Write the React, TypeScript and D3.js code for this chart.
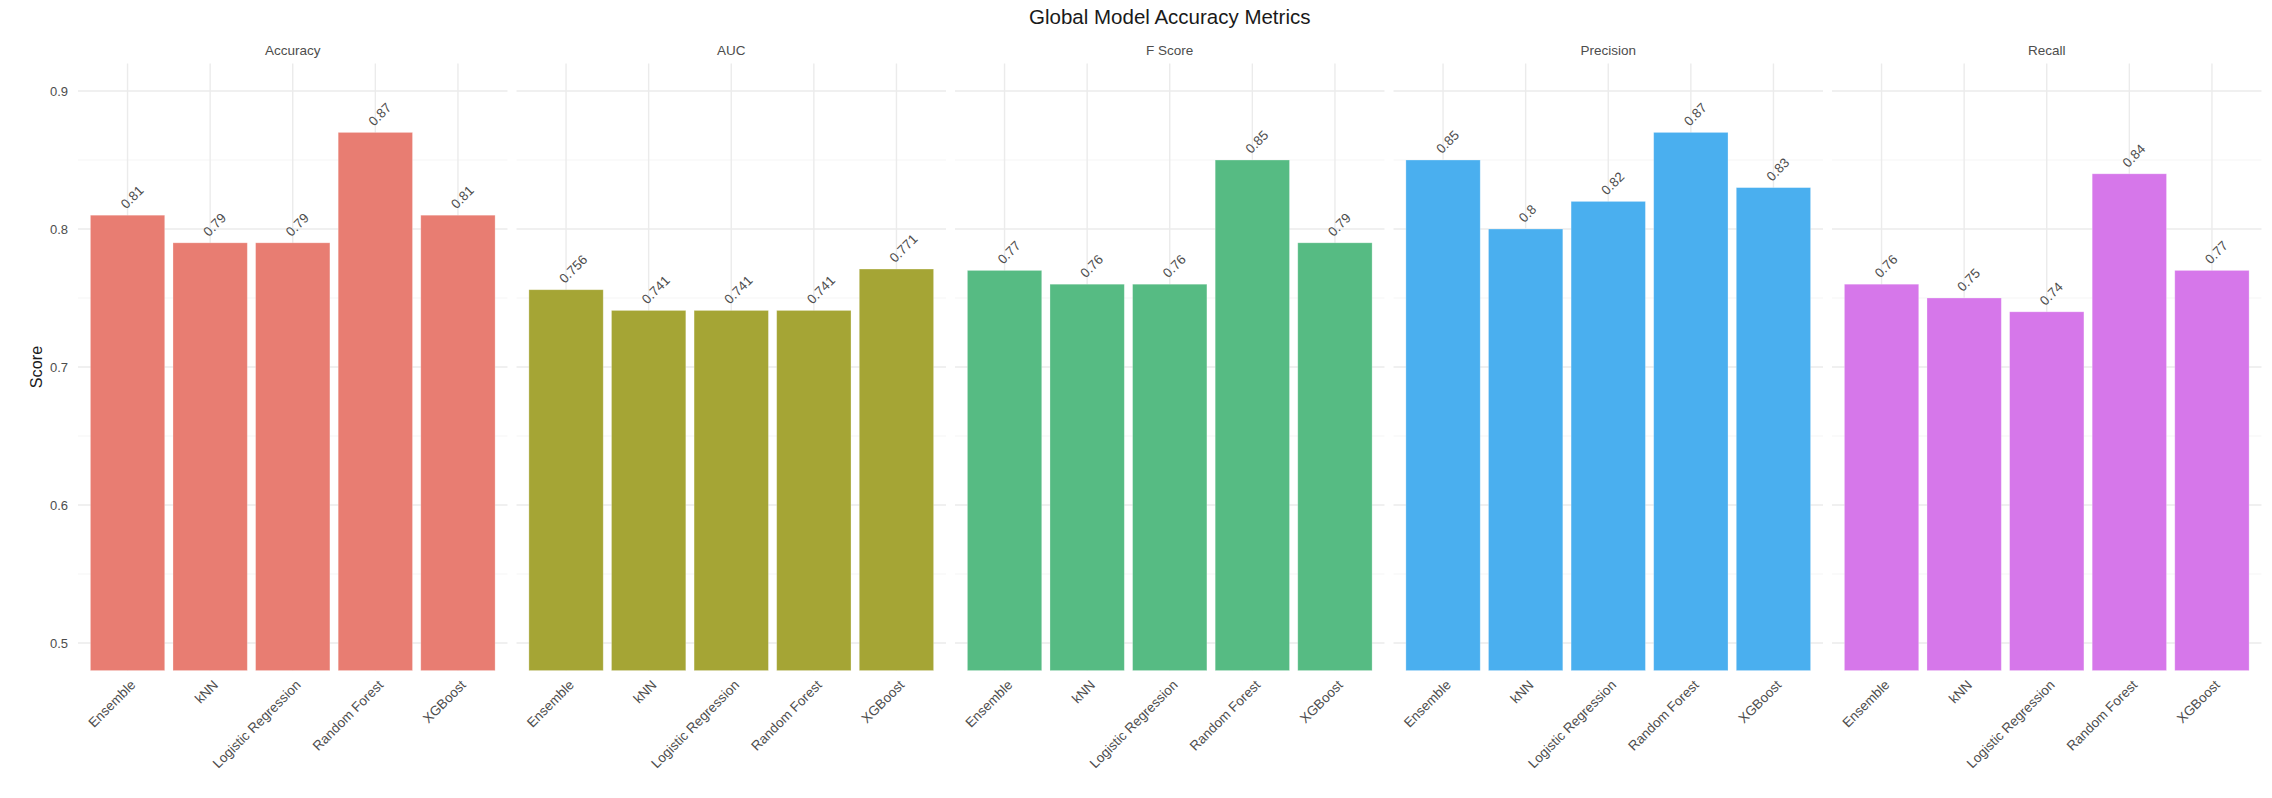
import React from "react";
import * as d3 from "d3";

// Chart data
const models = ["Ensemble", "kNN", "Logistic Regression", "Random Forest", "XGBoost"];
const metrics = ["Accuracy", "AUC", "F Score", "Precision", "Recall"];
const accuracy = [0.81, 0.79, 0.79, 0.87, 0.81];
const auc = [0.756, 0.741, 0.741, 0.741, 0.771];
const fScore = [0.77, 0.76, 0.76, 0.85, 0.79];
const precision = [0.85, 0.8, 0.82, 0.87, 0.83];
const recall = [0.76, 0.75, 0.74, 0.84, 0.77];
const majorTicks = [0.5, 0.6, 0.7, 0.8, 0.9];
const minorTicks = [0.55, 0.65, 0.75, 0.85];
const colors = ["#E87D72", "#A5A535", "#56BB83", "#4AAFEF", "#D677EA"];

const seriesByMetric = [accuracy, auc, fScore, precision, recall];

const W = 2272;
const H = 798;
const FONT = "'Liberation Sans', Arial, Helvetica, sans-serif";

const App: React.FC = () => {
  // Layout
  const panelLeft = 78;
  const panelWidth = 429.5;
  const panelGap = 9;
  const panelTop = 63.4;
  const panelBottom = 670.6;

  const y = d3.scaleLinear().domain([0.48, 0.92]).range([panelBottom, panelTop]);

  const panelX = (i: number) => panelLeft + i * (panelWidth + panelGap);
  const fullRight = panelX(metrics.length - 1) + panelWidth;

  return (
    <svg
      width={W}
      height={H}
      style={{ position: "absolute", left: 0, top: 0, background: "#fff" }}
      fontFamily={FONT}
    >
      {/* Title */}
      <text
        x={(panelLeft + fullRight) / 2}
        y={24}
        textAnchor="middle"
        fontSize={20.5}
        fill="#1a1a1a"
      >
        Global Model Accuracy Metrics
      </text>

      {/* Y axis title */}
      <text
        transform={`translate(42,${(panelTop + panelBottom) / 2}) rotate(-90)`}
        textAnchor="middle"
        fontSize={16.3}
        fill="#1a1a1a"
      >
        Score
      </text>

      {/* Y tick labels */}
      {majorTicks.map((t) => (
        <text
          key={t}
          x={68}
          y={y(t)}
          dy="0.35em"
          textAnchor="end"
          fontSize={13}
          fill="#4d4d4d"
        >
          {t}
        </text>
      ))}

      {metrics.map((metric, mi) => {
        const x0 = panelX(mi);
        const x = d3
          .scaleBand()
          .domain(models)
          .range([x0, x0 + panelWidth])
          .paddingInner(0.1)
          .paddingOuter(0.15);
        const values = seriesByMetric[mi];
        return (
          <g key={metric}>
            {/* Strip label */}
            <text
              x={x0 + panelWidth / 2}
              y={50}
              dy="0.35em"
              textAnchor="middle"
              fontSize={13.5}
              fill="#4d4d4d"
            >
              {metric}
            </text>

            {/* Minor grid */}
            {minorTicks.map((t) => (
              <line
                key={"mn" + t}
                x1={x0}
                x2={x0 + panelWidth}
                y1={y(t)}
                y2={y(t)}
                stroke="#f2f2f2"
                strokeWidth={0.8}
              />
            ))}
            {/* Major grid */}
            {majorTicks.map((t) => (
              <line
                key={"mj" + t}
                x1={x0}
                x2={x0 + panelWidth}
                y1={y(t)}
                y2={y(t)}
                stroke="#ebebeb"
                strokeWidth={1.4}
              />
            ))}
            {models.map((m) => {
              const cx = (x(m) || 0) + x.bandwidth() / 2;
              return (
                <line
                  key={"vg" + m}
                  x1={cx}
                  x2={cx}
                  y1={panelTop}
                  y2={panelBottom}
                  stroke="#ebebeb"
                  strokeWidth={1.4}
                />
              );
            })}

            {/* Bars */}
            {models.map((m, i) => (
              <rect
                key={"bar" + m}
                x={x(m) || 0}
                y={y(values[i])}
                width={x.bandwidth()}
                height={panelBottom - y(values[i])}
                fill={colors[mi]}
                stroke="#ffffff"
                strokeOpacity={0.35}
                strokeWidth={0.8}
              />
            ))}

            {/* Value labels */}
            {models.map((m, i) => {
              const cx = (x(m) || 0) + x.bandwidth() / 2;
              return (
                <text
                  key={"lbl" + m}
                  transform={`translate(${cx},${y(values[i])}) rotate(-45)`}
                  x={3}
                  y={-5}
                  textAnchor="start"
                  fontSize={13.3}
                  fill="#4d4d4d"
                >
                  {values[i]}
                </text>
              );
            })}

            {/* X tick labels */}
            {models.map((m) => {
              const cx = (x(m) || 0) + x.bandwidth() / 2;
              return (
                <text
                  key={"xt" + m}
                  transform={`translate(${cx + 2},${679}) rotate(-45)`}
                  dy="0.71em"
                  textAnchor="end"
                  fontSize={13.5}
                  fill="#4d4d4d"
                >
                  {m}
                </text>
              );
            })}
          </g>
        );
      })}
    </svg>
  );
};

export default App;
